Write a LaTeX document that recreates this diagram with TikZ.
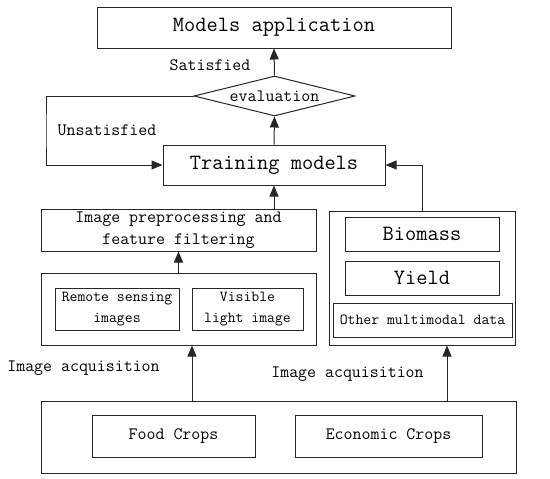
\documentclass[tikz,border=0pt]{standalone}
\usetikzlibrary{shapes.geometric,arrows.meta}

\newcommand{\fbig}{\ttfamily\fontsize{21.8}{22}\selectfont}
\newcommand{\fmid}{\ttfamily\fontsize{17.4}{22.5}\selectfont}
\newcommand{\fsml}{\ttfamily\fontsize{15.3}{20.5}\selectfont}

\tikzset{
  box/.style={draw=black!85, line width=1pt, inner sep=0pt, align=center},
  arr/.style={draw=black!85, line width=1pt, -{Triangle[length=11pt,width=9pt]}},
}

\begin{document}
\begin{tikzpicture}[x=1pt, y=-1pt]
  \useasboundingbox (0,0) rectangle (550,479);

  % --- Top: application, evaluation, training ---
  \node[box, minimum width=354pt, minimum height=41pt, font=\fbig] (app) at (274,27.5) {Models application};
  \node[box, diamond, aspect=4, minimum width=161pt, minimum height=40pt, font=\fmid] (eval) at (274.5,96) {evaluation};
  \node[box, minimum width=222pt, minimum height=40pt, font=\fbig] (train) at (274,165) {Training models};
  \node[font=\fmid] (sat) at (210,65) {Satisfied};
  \node[font=\fmid] (unsat) at (107,130) {Unsatisfied};
  \coordinate (loop) at (46,130);

  % --- Left branch: images ---
  \node[box, minimum width=275pt, minimum height=42pt, font=\fmid] (prep) at (178.5,230) {Image preprocessing and\\feature filtering};
  \node[box, minimum width=275pt, minimum height=72pt] (imgs) at (178.5,309) {};
  \node[box, minimum width=124pt, minimum height=42pt, font=\fsml] (rs) at (117,309) {Remote sensing\\images};
  \node[box, minimum width=111pt, minimum height=42pt, font=\fsml] (vis) at (247.5,309) {Visible\\light image};

  % --- Right branch: other data ---
  \node[box, minimum width=186pt, minimum height=134pt] (data) at (422,278) {};
  \node[box, minimum width=154pt, minimum height=34pt, font=\fbig] (bio) at (422,234) {Biomass};
  \node[box, minimum width=154pt, minimum height=34pt, font=\fbig] (yield) at (422,278) {Yield};
  \node[box, minimum width=179pt, minimum height=34pt, font=\fsml] (other) at (422.5,320) {Other multimodal data};

  % --- Bottom: crops ---
  \node[box, minimum width=475pt, minimum height=72pt] (crops) at (278.5,437) {};
  \node[box, minimum width=163pt, minimum height=42pt, font=\fmid] (food) at (173.5,436) {Food Crops};
  \node[box, minimum width=187pt, minimum height=42pt, font=\fmid] (econ) at (388.5,436) {Economic Crops};
  \node[font=\fmid] (acqL) at (83.5,368) {Image acquisition};
  \node[font=\fmid] (acqR) at (347.5,374) {Image acquisition};
  \coordinate (upL) at (192,401);
  \coordinate (upR) at (447,401);

  % --- Arrows ---
  \draw[arr] (eval.north) -- (app.south);
  \draw[arr] (train.north) -- (eval.south);
  \draw[arr] (eval.west) -| (loop) |- (train.west);
  \draw[arr] (data.north) |- (train.east);
  \draw[arr] (train.south |- prep.north) -- (train.south);
  \draw[arr] (imgs.north) -- (prep.south);
  \draw[arr] (upL) -- (upL |- imgs.south);
  \draw[arr] (upR) -- (upR |- data.south);

\end{tikzpicture}
\end{document}
